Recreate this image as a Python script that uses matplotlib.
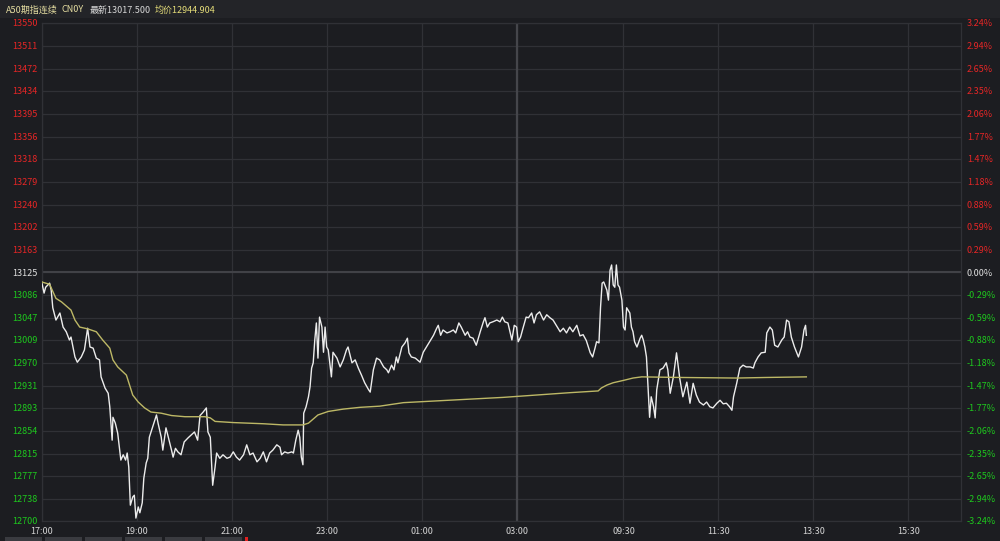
import matplotlib
matplotlib.use("Agg")
import matplotlib.pyplot as plt
from matplotlib.patches import Rectangle

plt.rcParams['font.family'] = ['Noto Sans CJK SC', 'DejaVu Sans']

# ---------------- data ----------------
title_name = "A50期指连续"
title_code = "CN0Y"
title_last = "最新13017.500"
title_avg = "均价12944.904"

prev_close = 13125
y_ticks = [13550, 13511, 13472, 13434, 13395, 13356, 13318, 13279, 13240, 13202,
           13163, 13125, 13086, 13047, 13009, 12970, 12931, 12893, 12854, 12815,
           12777, 12738, 12700]
pct_labels = ["3.24%", "2.94%", "2.65%", "2.35%", "2.06%", "1.77%", "1.47%", "1.18%",
              "0.88%", "0.59%", "0.29%", "0.00%", "-0.29%", "-0.59%", "-0.88%", "-1.18%",
              "-1.47%", "-1.77%", "-2.06%", "-2.35%", "-2.65%", "-2.94%", "-3.24%"]
x_tick_labels = ["17:00", "19:00", "21:00", "23:00", "01:00", "03:00",
                 "09:30", "11:30", "13:30", "15:30"]
day_divider = "03:00"

price_times = [
    "17:00", "17:03", "17:05", "17:10", "17:12", "17:14", "17:18", "17:23", "17:27", "17:31",
    "17:35", "17:37", "17:42", "17:45", "17:50", "17:54", "17:58", "18:01", "18:05", "18:09",
    "18:13", "18:15", "18:20", "18:24", "18:26", "18:29", "18:30", "18:33", "18:36", "18:40",
    "18:43", "18:46", "18:48", "18:50", "18:52", "18:55", "18:57", "18:59", "19:02", "19:04",
    "19:07", "19:09", "19:12", "19:14", "19:16", "19:21", "19:25", "19:27", "19:31", "19:33",
    "19:37", "19:40", "19:44", "19:46", "19:49", "19:52", "19:56", "20:00", "20:05", "20:09",
    "20:13", "20:17", "20:20", "20:24", "20:28", "20:30", "20:33", "20:36", "20:39", "20:41",
    "20:45", "20:49", "20:54", "20:58", "21:02", "21:06", "21:10", "21:15", "21:19", "21:23",
    "21:27", "21:32", "21:36", "21:40", "21:44", "21:48", "21:52", "21:57", "22:01", "22:03",
    "22:07", "22:11", "22:16", "22:18", "22:21", "22:24", "22:26", "22:28", "22:30", "22:31",
    "22:34", "22:37", "22:39", "22:41", "22:43", "22:45", "22:47", "22:49", "22:51", "22:54",
    "22:56", "22:58", "23:00", "23:02", "23:06", "23:08", "23:13", "23:17", "23:21", "23:25",
    "23:27", "23:32", "23:36", "23:40", "23:44", "23:48", "23:53", "23:55", "23:59", "00:03",
    "00:07", "00:12", "00:16", "00:18", "00:22", "00:25", "00:28", "00:30", "00:35", "00:39",
    "00:42", "00:44", "00:47", "00:52", "00:58", "01:02", "01:06", "01:10", "01:15", "01:19",
    "01:21", "01:24", "01:27", "01:32", "01:36", "01:40", "01:43", "01:47", "01:50", "01:55",
    "01:58", "02:01", "02:05", "02:09", "02:14", "02:18", "02:20", "02:23", "02:26", "02:30",
    "02:35", "02:39", "02:42", "02:45", "02:49", "02:54", "02:57", "03:00", "03:02", "03:05",
    "03:08", "03:12", "03:15", "03:19", "03:22", "03:25", "03:29", "03:34", "03:38", "03:42",
    "03:46", "03:50", "03:55", "03:59", "04:03", "04:07", "04:11", "04:16", "04:20", "04:24",
    "04:28", "04:33", "04:36", "04:39", "04:41", "04:44", "09:01", "09:03", "09:05", "09:09",
    "09:11", "09:13", "09:15", "09:17", "09:19", "09:21", "09:23", "09:25", "09:28", "09:30",
    "09:32", "09:34", "09:38", "09:40", "09:42", "09:44", "09:47", "09:51", "09:53", "09:55",
    "09:57", "09:59", "10:01", "10:03", "10:05", "10:08", "10:10", "10:12", "10:16", "10:20",
    "10:24", "10:26", "10:29", "10:33", "10:37", "10:41", "10:45", "10:50", "10:54", "10:58",
    "11:02", "11:06", "11:11", "11:15", "11:19", "11:23", "11:28", "11:32", "11:36", "11:40",
    "11:44", "11:47", "11:49", "11:53", "11:57", "12:01", "12:05", "12:10", "12:14", "12:16",
    "12:20", "12:24", "12:29", "12:31", "12:35", "12:38", "12:41", "12:45", "12:50", "12:53",
    "12:56", "12:59", "13:02", "13:06", "13:11", "13:15", "13:18", "13:20", "13:21",
]
price_values = [
    13108, 13089, 13099, 13106, 13094, 13064, 13043, 13055, 13031, 13023,
    13009, 13014, 12980, 12971, 12980, 12992, 13029, 12997, 12995, 12978,
    12975, 12946, 12927, 12918, 12895, 12838, 12877, 12867, 12850, 12804,
    12813, 12804, 12816, 12792, 12727, 12741, 12744, 12705, 12724, 12714,
    12731, 12773, 12799, 12807, 12843, 12864, 12881, 12867, 12843, 12821,
    12859, 12843, 12821, 12809, 12824, 12818, 12813, 12835, 12842, 12847,
    12852, 12838, 12880, 12886, 12893, 12852, 12843, 12761, 12792, 12816,
    12807, 12813, 12807, 12809, 12818, 12809, 12804, 12813, 12830, 12813,
    12816, 12801, 12807, 12818, 12801, 12816, 12821, 12830, 12826, 12813,
    12818, 12816, 12818, 12816, 12838, 12855, 12843, 12809, 12796, 12884,
    12895, 12912, 12929, 12961, 12970, 13009, 13038, 12978, 13048, 13031,
    12988, 13031, 12997, 12992, 12946, 12988, 12978, 12963, 12975, 12992,
    12997, 12970, 12975, 12961, 12949, 12936, 12924, 12920, 12958, 12978,
    12975, 12963, 12958, 12953, 12966, 12958, 12980, 12970, 12997, 13004,
    13012, 12987, 12980, 12978, 12971, 12988, 12997, 13006, 13017, 13029,
    13034, 13017, 13026, 13021, 13023, 13026, 13021, 13038, 13031, 13017,
    13023, 13014, 13012, 13000, 13023, 13040, 13047, 13031, 13038, 13040,
    13043, 13040, 13048, 13040, 13038, 13009, 13034, 13031, 13006, 13014,
    13029, 13048, 13047, 13055, 13038, 13052, 13057, 13043, 13052, 13047,
    13043, 13034, 13023, 13029, 13021, 13031, 13023, 13034, 13016, 13018,
    13008, 12987, 12980, 12995, 13006, 13004, 13065, 13106, 13108, 13094,
    13077, 13128, 13137, 13103, 13099, 13137, 13103, 13099, 13077, 13031,
    13026, 13064, 13055, 13031, 13023, 13006, 12997, 13012, 13017, 13009,
    12997, 12980, 12929, 12877, 12912, 12895, 12876, 12924, 12958, 12961,
    12970, 12958, 12918, 12946, 12987, 12944, 12912, 12937, 12901, 12935,
    12915, 12903, 12898, 12903, 12895, 12893, 12901, 12906, 12900, 12901,
    12895, 12889, 12912, 12935, 12961, 12966, 12963, 12963, 12961, 12970,
    12980, 12987, 12988, 13021, 13031, 13026, 13000, 12997, 13009, 13014,
    13043, 13040, 13014, 12997, 12980, 12997, 13026, 13034, 13017,
]

avg_times = [
    "17:00", "17:10", "17:18", "17:25", "17:37", "17:42", "17:48", "17:58", "18:09", "18:17",
    "18:26", "18:30", "18:36", "18:47", "18:51", "18:55", "19:02", "19:10", "19:18", "19:31",
    "19:44", "20:01", "20:26", "20:33", "20:39", "21:02", "21:40", "22:05", "22:30", "22:37",
    "22:49", "23:02", "23:21", "23:42", "00:07", "00:37", "01:19", "02:01", "02:43", "03:25",
    "04:07", "04:43", "09:02", "09:09", "09:17", "09:30", "09:42", "09:53", "10:41", "11:53",
    "12:31", "13:21",
]
avg_values = [
    13108, 13104, 13080, 13074, 13060, 13043, 13031, 13028, 13023, 13009,
    12995, 12975, 12963, 12949, 12932, 12915, 12903, 12893, 12886, 12884,
    12880, 12878, 12878, 12876, 12870, 12868, 12866, 12864, 12864, 12867,
    12881, 12887, 12891, 12894, 12896, 12902, 12905, 12908, 12911, 12915,
    12919, 12922, 12927, 12932, 12936, 12940, 12944, 12946, 12945, 12944,
    12945, 12946,
]

NIGHT_MINUTES = 705   # 17:00 - 04:45
AXIS_MINUTES = 1161


def session_index(t):
    h, m = map(int, t.split(":"))
    if h >= 17:
        return (h - 17) * 60 + m
    if h < 9:
        return (h + 7) * 60 + m
    return NIGHT_MINUTES + (h - 9) * 60 + m


# ---------------- style ----------------
BG = "#1c1d21"
HEADER_BG = "#232428"
GRID = "#303136"
RED = "#e62626"
GREEN = "#1ec81e"
WHITE = "#e0e0e0"
PRICE_C = "#ececec"
AVG_C = "#bdb866"

W, H = 1000, 541
fig = plt.figure(figsize=(W / 100, H / 100), dpi=100, facecolor=BG)

# header strip
fig.patches.append(Rectangle((0, 1 - 18 / H), 1, 18 / H, transform=fig.transFigure,
                             facecolor=HEADER_BG, edgecolor="none", zorder=0))
# bottom tabs
for x0 in [5, 45, 85, 125, 165, 205]:
    fig.patches.append(Rectangle((x0 / W, 0), 37 / W, 4 / H, transform=fig.transFigure,
                                 facecolor="#3a3b40", edgecolor="none", zorder=0))
fig.patches.append(Rectangle((245 / W, 0), 3 / W, 4 / H, transform=fig.transFigure,
                             facecolor="#e02020", edgecolor="none", zorder=0))

hy = 1 - 10 / H
fig.text(6 / W, hy, title_name, color="#e4dca0", fontsize=6.5, va="center", ha="left")
fig.text(62 / W, hy, title_code, color="#e4dca0", fontsize=6.5, va="center", ha="left")
fig.text(90 / W, hy, title_last, color="#d8d8d8", fontsize=6.5, va="center", ha="left")
fig.text(155 / W, hy, title_avg, color="#e4dc78", fontsize=6.5, va="center", ha="left")

left, right, top, bottom = 41.7, 960.7, 23, 521
ax = fig.add_axes([left / W, 1 - bottom / H, (right - left) / W, (bottom - top) / H])
ax.set_facecolor(BG)
ax.set_xlim(0, AXIS_MINUTES)
ax.set_ylim(y_ticks[-1], y_ticks[0])

xt = [session_index(t) for t in x_tick_labels]
ax.set_xticks(xt)
ax.set_xticklabels(x_tick_labels)
ax.set_yticks(y_ticks)
ax.set_yticklabels([str(v) for v in y_ticks])
ax.grid(True, color=GRID, lw=0.9)
ax.set_axisbelow(True)
for s in ax.spines.values():
    s.set_color(GRID)
    s.set_linewidth(0.9)

ax.tick_params(axis="both", length=0, labelsize=6.5)
ax.tick_params(axis="y", pad=3)
ax.tick_params(axis="x", pad=4, colors="#d4d4d4")
for lab, v in zip(ax.get_yticklabels(), y_ticks):
    lab.set_color(RED if v > prev_close else (GREEN if v < prev_close else WHITE))

ax2 = ax.twinx()
ax2.set_ylim(ax.get_ylim())
ax2.set_yticks(y_ticks)
ax2.set_yticklabels(pct_labels)
ax2.tick_params(axis="y", length=0, labelsize=6.5, pad=4.5)
for lab, v in zip(ax2.get_yticklabels(), y_ticks):
    lab.set_color(RED if v > prev_close else (GREEN if v < prev_close else WHITE))
for s in ax2.spines.values():
    s.set_visible(False)

ax.axhline(prev_close, color="#414247", lw=1.5, zorder=1)
ax.axvline(session_index(day_divider), color="#45464b", lw=1.6, zorder=1)

px = [session_index(t) for t in price_times]
ax.plot(px, price_values, color=PRICE_C, lw=1.0, zorder=3)
axx = [session_index(t) for t in avg_times]
ax.plot(axx, avg_values, color=AVG_C, lw=1.0, zorder=4)

fig.savefig("out.png", dpi=100, facecolor=fig.get_facecolor())
